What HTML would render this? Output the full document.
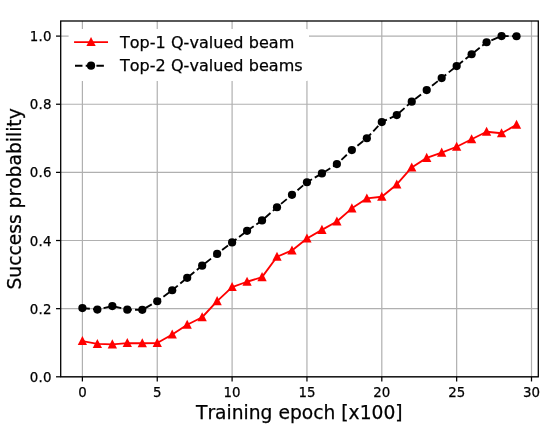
<!DOCTYPE html>
<html lang="en"><head><meta charset="utf-8"><title>Success probability vs training epoch</title>
<style>html,body{margin:0;padding:0;background:#fff}body{width:550px;height:427px;overflow:hidden}</style></head>
<body>
<svg width="550" height="427" viewBox="0 0 550 427" style="display:block">
<rect width="550" height="427" fill="#fff"/>
<g stroke="#b0b0b0" stroke-width="1.2" fill="none">
<line x1="82.40" y1="21.0" x2="82.40" y2="376.8"/>
<line x1="157.25" y1="21.0" x2="157.25" y2="376.8"/>
<line x1="232.10" y1="21.0" x2="232.10" y2="376.8"/>
<line x1="306.95" y1="21.0" x2="306.95" y2="376.8"/>
<line x1="381.80" y1="21.0" x2="381.80" y2="376.8"/>
<line x1="456.65" y1="21.0" x2="456.65" y2="376.8"/>
<line x1="531.50" y1="21.0" x2="531.50" y2="376.8"/>
<line x1="60.7" y1="376.80" x2="538.3" y2="376.80"/>
<line x1="60.7" y1="308.66" x2="538.3" y2="308.66"/>
<line x1="60.7" y1="240.52" x2="538.3" y2="240.52"/>
<line x1="60.7" y1="172.38" x2="538.3" y2="172.38"/>
<line x1="60.7" y1="104.24" x2="538.3" y2="104.24"/>
<line x1="60.7" y1="36.10" x2="538.3" y2="36.10"/>
</g>
<g stroke="#000" stroke-width="1.25" fill="none">
<line x1="82.40" y1="376.8" x2="82.40" y2="381.47"/>
<line x1="157.25" y1="376.8" x2="157.25" y2="381.47"/>
<line x1="232.10" y1="376.8" x2="232.10" y2="381.47"/>
<line x1="306.95" y1="376.8" x2="306.95" y2="381.47"/>
<line x1="381.80" y1="376.8" x2="381.80" y2="381.47"/>
<line x1="456.65" y1="376.8" x2="456.65" y2="381.47"/>
<line x1="531.50" y1="376.8" x2="531.50" y2="381.47"/>
<line x1="60.7" y1="376.80" x2="56.03" y2="376.80"/>
<line x1="60.7" y1="308.66" x2="56.03" y2="308.66"/>
<line x1="60.7" y1="240.52" x2="56.03" y2="240.52"/>
<line x1="60.7" y1="172.38" x2="56.03" y2="172.38"/>
<line x1="60.7" y1="104.24" x2="56.03" y2="104.24"/>
<line x1="60.7" y1="36.10" x2="56.03" y2="36.10"/>
</g>
<polyline points="82.40,341.05 97.37,343.95 112.34,344.35 127.31,343.05 142.28,343.25 157.25,343.05 172.22,334.55 187.19,324.75 202.16,317.25 217.13,301.15 232.10,287.05 247.07,281.75 262.04,277.15 277.01,256.75 291.98,250.45 306.95,238.45 321.92,229.85 336.89,221.45 351.86,208.35 366.83,198.45 381.80,196.75 396.77,184.45 411.74,167.45 426.71,157.85 441.68,152.65 456.65,146.75 471.62,139.25 486.59,131.75 501.56,133.25 516.53,124.75" fill="none" stroke="#f00" stroke-width="1.85" stroke-linejoin="round" stroke-linecap="square"/>
<g fill="#f00"><path d="M82.40 336.00L77.75 345.10L87.05 345.10Z"/><path d="M97.37 338.90L92.72 348.00L102.02 348.00Z"/><path d="M112.34 339.30L107.69 348.40L116.99 348.40Z"/><path d="M127.31 338.00L122.66 347.10L131.96 347.10Z"/><path d="M142.28 338.20L137.63 347.30L146.93 347.30Z"/><path d="M157.25 338.00L152.60 347.10L161.90 347.10Z"/><path d="M172.22 329.50L167.57 338.60L176.87 338.60Z"/><path d="M187.19 319.70L182.54 328.80L191.84 328.80Z"/><path d="M202.16 312.20L197.51 321.30L206.81 321.30Z"/><path d="M217.13 296.10L212.48 305.20L221.78 305.20Z"/><path d="M232.10 282.00L227.45 291.10L236.75 291.10Z"/><path d="M247.07 276.70L242.42 285.80L251.72 285.80Z"/><path d="M262.04 272.10L257.39 281.20L266.69 281.20Z"/><path d="M277.01 251.70L272.36 260.80L281.66 260.80Z"/><path d="M291.98 245.40L287.33 254.50L296.63 254.50Z"/><path d="M306.95 233.40L302.30 242.50L311.60 242.50Z"/><path d="M321.92 224.80L317.27 233.90L326.57 233.90Z"/><path d="M336.89 216.40L332.24 225.50L341.54 225.50Z"/><path d="M351.86 203.30L347.21 212.40L356.51 212.40Z"/><path d="M366.83 193.40L362.18 202.50L371.48 202.50Z"/><path d="M381.80 191.70L377.15 200.80L386.45 200.80Z"/><path d="M396.77 179.40L392.12 188.50L401.42 188.50Z"/><path d="M411.74 162.40L407.09 171.50L416.39 171.50Z"/><path d="M426.71 152.80L422.06 161.90L431.36 161.90Z"/><path d="M441.68 147.60L437.03 156.70L446.33 156.70Z"/><path d="M456.65 141.70L452.00 150.80L461.30 150.80Z"/><path d="M471.62 134.20L466.97 143.30L476.27 143.30Z"/><path d="M486.59 126.70L481.94 135.80L491.24 135.80Z"/><path d="M501.56 128.20L496.91 137.30L506.21 137.30Z"/><path d="M516.53 119.70L511.88 128.80L521.18 128.80Z"/></g>
<polyline points="82.40,308.05 97.37,309.55 112.34,306.05 127.31,309.65 142.28,309.85 157.25,301.25 172.22,290.25 187.19,277.85 202.16,265.65 217.13,253.85 232.10,242.45 247.07,230.85 262.04,220.45 277.01,207.25 291.98,194.85 306.95,182.25 321.92,173.45 336.89,164.05 351.86,150.05 366.83,138.25 381.80,122.05 396.77,115.05 411.74,101.65 426.71,90.05 441.68,78.05 456.65,66.05 471.62,54.25 486.59,42.25 501.56,36.05 516.53,36.25" fill="none" stroke="#000" stroke-width="1.85" stroke-dasharray="7.47 3.24"/>
<g fill="#000"><circle cx="82.40" cy="308.05" r="4.1"/><circle cx="97.37" cy="309.55" r="4.1"/><circle cx="112.34" cy="306.05" r="4.1"/><circle cx="127.31" cy="309.65" r="4.1"/><circle cx="142.28" cy="309.85" r="4.1"/><circle cx="157.25" cy="301.25" r="4.1"/><circle cx="172.22" cy="290.25" r="4.1"/><circle cx="187.19" cy="277.85" r="4.1"/><circle cx="202.16" cy="265.65" r="4.1"/><circle cx="217.13" cy="253.85" r="4.1"/><circle cx="232.10" cy="242.45" r="4.1"/><circle cx="247.07" cy="230.85" r="4.1"/><circle cx="262.04" cy="220.45" r="4.1"/><circle cx="277.01" cy="207.25" r="4.1"/><circle cx="291.98" cy="194.85" r="4.1"/><circle cx="306.95" cy="182.25" r="4.1"/><circle cx="321.92" cy="173.45" r="4.1"/><circle cx="336.89" cy="164.05" r="4.1"/><circle cx="351.86" cy="150.05" r="4.1"/><circle cx="366.83" cy="138.25" r="4.1"/><circle cx="381.80" cy="122.05" r="4.1"/><circle cx="396.77" cy="115.05" r="4.1"/><circle cx="411.74" cy="101.65" r="4.1"/><circle cx="426.71" cy="90.05" r="4.1"/><circle cx="441.68" cy="78.05" r="4.1"/><circle cx="456.65" cy="66.05" r="4.1"/><circle cx="471.62" cy="54.25" r="4.1"/><circle cx="486.59" cy="42.25" r="4.1"/><circle cx="501.56" cy="36.05" r="4.1"/><circle cx="516.53" cy="36.25" r="4.1"/></g>
<rect x="60.7" y="21.0" width="477.60" height="355.80" fill="none" stroke="#000" stroke-width="1.3"/>
<rect x="68.6" y="28.9" width="240.4" height="52" rx="2.5" fill="#fff"/>
<line x1="75" y1="42.05" x2="107.1" y2="42.05" stroke="#f00" stroke-width="1.85" stroke-linecap="square"/>
<g fill="#f00"><path d="M91.05 37.00L86.40 46.10L95.70 46.10Z"/></g>
<line x1="75" y1="65.7" x2="107.1" y2="65.7" stroke="#000" stroke-width="1.85" stroke-dasharray="7.47 3.24"/>
<circle cx="91.05" cy="65.7" r="4.1" fill="#000"/>
<g font-family="DejaVu Sans, Liberation Sans, sans-serif" fill="#000" stroke="#000" stroke-width="0.25" style="font-kerning:none">
<g font-size="16.03" letter-spacing="0.04">
<text x="119.9" y="47.8">Top-1 Q-valued beam</text>
<text x="119.9" y="71.0">Top-2 Q-valued beams</text>
</g>
<g font-size="13.36">
<text x="82.40" y="396.75" text-anchor="middle">0</text>
<text x="157.25" y="396.75" text-anchor="middle">5</text>
<text x="232.10" y="396.75" text-anchor="middle">10</text>
<text x="306.95" y="396.75" text-anchor="middle">15</text>
<text x="381.80" y="396.75" text-anchor="middle">20</text>
<text x="456.65" y="396.75" text-anchor="middle">25</text>
<text x="531.50" y="396.75" text-anchor="middle">30</text>
<text x="51.65" y="381.90" text-anchor="end" letter-spacing="0.25">0.0</text>
<text x="51.65" y="313.76" text-anchor="end" letter-spacing="0.25">0.2</text>
<text x="51.65" y="245.62" text-anchor="end" letter-spacing="0.25">0.4</text>
<text x="51.65" y="177.48" text-anchor="end" letter-spacing="0.25">0.6</text>
<text x="51.65" y="109.34" text-anchor="end" letter-spacing="0.25">0.8</text>
<text x="51.65" y="41.20" text-anchor="end" letter-spacing="0.25">1.0</text>
</g>
<g font-size="18.7">
<text x="299.30" y="418.9" text-anchor="middle">Training epoch [x100]</text>
<text transform="translate(20.6 198.90) rotate(-90)" text-anchor="middle">Success probability</text>
</g></g>
</svg>
</body></html>
